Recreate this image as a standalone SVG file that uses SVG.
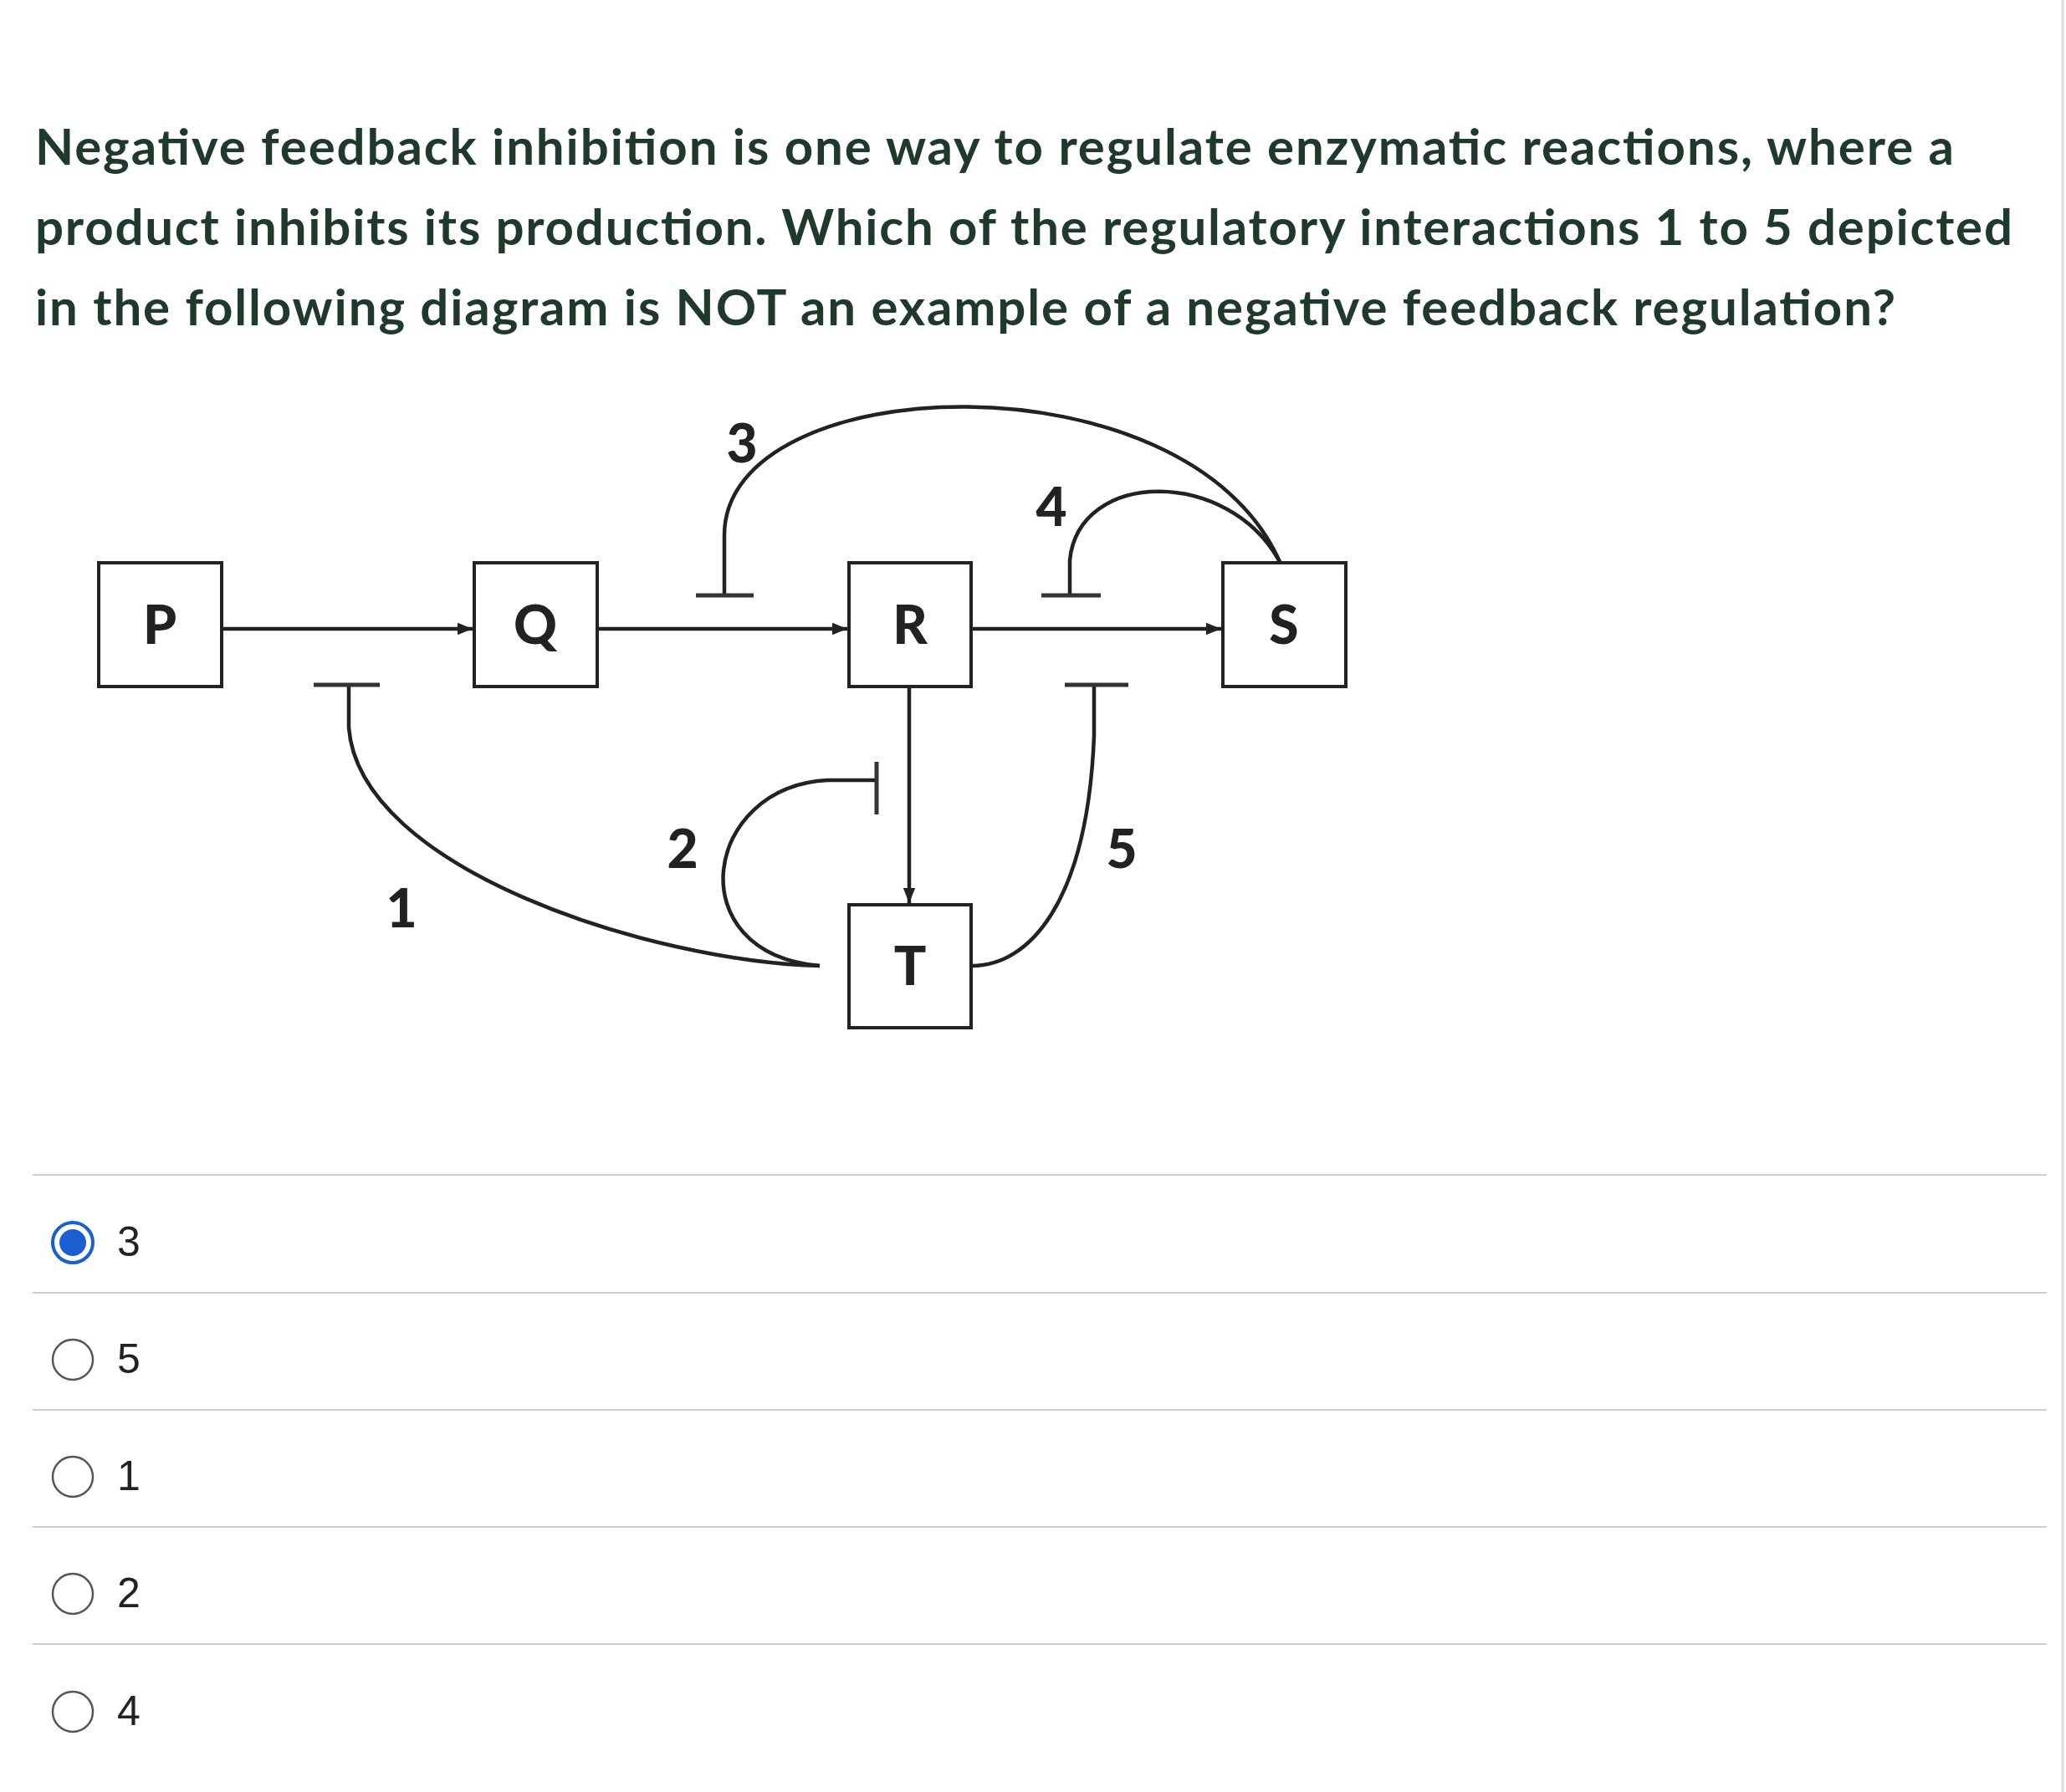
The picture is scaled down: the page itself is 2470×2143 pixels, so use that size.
<svg xmlns="http://www.w3.org/2000/svg" width="2470" height="2143" viewBox="0 0 2470 2143">
<defs>
<marker id="ah" viewBox="0 0 10 10" refX="10" refY="5" markerWidth="8" markerHeight="4" orient="auto" markerUnits="strokeWidth"><path d="M0,1 L10,5 L0,9 z" fill="#222"/></marker>
<style>
.q{font-family:Lato,"Open Sans",sans-serif;font-weight:bold;font-size:60px;fill:#1f3a2a}
.box{fill:#fff;stroke:#222;stroke-width:4}
.bl{font-family:Lato,"Open Sans",sans-serif;font-weight:900;font-size:64px;fill:#222;text-anchor:middle}
.ln{fill:none;stroke:#222;stroke-width:4.5}
.bar{stroke:#333;stroke-width:5}
.sep{stroke:#d0d0d0;stroke-width:2}
.opt{font-family:"Liberation Sans",Arial,sans-serif;font-size:50px;fill:#222}
.rad{fill:#fff;stroke:#555;stroke-width:2.5}
</style>
</defs>
<rect width="2470" height="2143" fill="#fff"/>
<line x1="2466" y1="0" x2="2466" y2="2143" stroke="#ddd" stroke-width="3"/>
<text class="q" x="42" y="197" textLength="2294">Negative feedback inhibition is one way to regulate enzymatic reactions, where a</text>
<text class="q" x="42" y="293" textLength="2364">product inhibits its production. Which of the regulatory interactions 1 to 5 depicted</text>
<text class="q" x="42" y="389" textLength="2224">in the following diagram is NOT an example of a negative feedback regulation?</text>
<g id="connectors">
<line class="ln" x1="265" y1="752" x2="565" y2="752" marker-end="url(#ah)"/>
<line class="ln" x1="714" y1="752" x2="1013" y2="752" marker-end="url(#ah)"/>
<line class="ln" x1="1161" y1="752" x2="1460" y2="752" marker-end="url(#ah)"/>
<line class="ln" x1="1087" y1="821" x2="1087" y2="1080" stroke-width="6" marker-end="url(#ah)"/>
<path class="ln" d="M866,712 L866,640 C866,440 1420,420 1530,672"/>
<path class="ln" d="M1279,712 L1279,670 C1290,560 1470,560 1530,672"/>
<path class="ln" d="M417,819 L417,870 C430,1040 780,1150 980,1155"/>
<path class="ln" d="M1048,933 L990,933 C840,940 810,1140 980,1155"/>
<path class="ln" d="M1308,819 L1308,880 C1300,1080 1230,1155 1162,1155"/>
<line class="bar" x1="832" y1="712" x2="901" y2="712"/>
<line class="bar" x1="1245" y1="712" x2="1316" y2="712"/>
<line class="bar" x1="375" y1="819" x2="454" y2="819"/>
<line class="bar" x1="1048" y1="911" x2="1048" y2="974"/>
<line class="bar" x1="1273" y1="819" x2="1349" y2="819"/>
<text class="bl" x="887" y="553">3</text>
<text class="bl" x="1257" y="629">4</text>
<text class="bl" x="816" y="1038">2</text>
<text class="bl" x="1341" y="1038">5</text>
<text class="bl" x="480" y="1109">1</text>
</g>
<g id="P"><rect class="box" x="118" y="673" width="147" height="148"/><text class="bl" x="191" y="770">P</text></g>
<g id="Q"><rect class="box" x="567" y="673" width="147" height="148"/><text class="bl" x="640" y="770">Q</text></g>
<g id="R"><rect class="box" x="1015" y="673" width="146" height="148"/><text class="bl" x="1088" y="770">R</text></g>
<g id="S"><rect class="box" x="1462" y="673" width="147" height="148"/><text class="bl" x="1535" y="770">S</text></g>
<g id="T"><rect class="box" x="1015" y="1082" width="146" height="147"/><text class="bl" x="1088" y="1178">T</text></g>
<line class="sep" x1="39" y1="1405" x2="2447" y2="1405"/>
<line class="sep" x1="39" y1="1546" x2="2447" y2="1546"/>
<line class="sep" x1="39" y1="1686" x2="2447" y2="1686"/>
<line class="sep" x1="39" y1="1826" x2="2447" y2="1826"/>
<line class="sep" x1="39" y1="1966" x2="2447" y2="1966"/>
<circle cx="87" cy="1486" r="24" fill="#fff" stroke="#1a5fd0" stroke-width="4"/>
<circle cx="87" cy="1486" r="16" fill="#1a5fd0"/>
<text class="opt" x="140" y="1502">3</text>
<circle class="rad" cx="87" cy="1626" r="24"/><text class="opt" x="140" y="1642">5</text>
<circle class="rad" cx="87" cy="1766" r="24"/><text class="opt" x="140" y="1782">1</text>
<circle class="rad" cx="87" cy="1906" r="24"/><text class="opt" x="140" y="1922">2</text>
<circle class="rad" cx="87" cy="2047" r="24"/><text class="opt" x="140" y="2063">4</text>
</svg>
